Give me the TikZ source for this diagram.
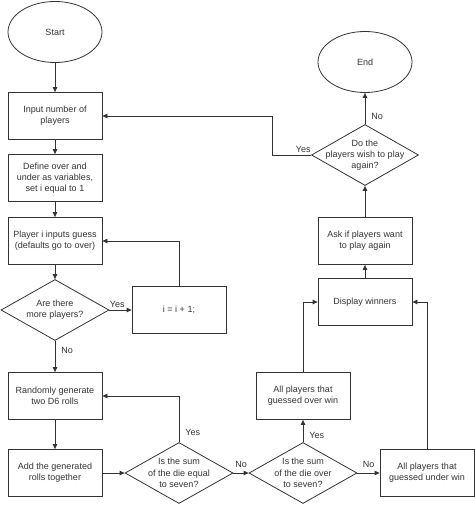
\documentclass[tikz,border=0pt]{standalone}
\usepackage{fontspec}
\setmainfont{Liberation Sans}
\usepackage{xcolor}
\usetikzlibrary{shapes.geometric, arrows.meta}

\definecolor{ink}{HTML}{333333}

\begin{document}
\begin{tikzpicture}[
  x=1pt, y=-1pt,
  box/.style={
    rectangle, draw=ink, thick, text=ink,
    minimum width=94pt, minimum height=47pt, inner sep=0pt,
    align=center, font=\fontsize{9}{11.3}\selectfont
  },
  term/.style={
    ellipse, draw=ink, thick, text=ink,
    minimum width=94pt, minimum height=61pt, inner sep=0pt,
    font=\fontsize{9}{11.3}\selectfont
  },
  dec/.style={
    diamond, draw=ink, thick,
    minimum width=108pt, minimum height=61pt, inner sep=0pt
  },
  dectext/.style={align=center, text=ink, font=\fontsize{9}{11.3}\selectfont},
  lbl/.style={text=ink, font=\fontsize{9}{11}\selectfont, inner sep=2pt},
  arrow/.style={-{Triangle[length=5pt,width=4.5pt]}, thick, ink}
]
\useasboundingbox (0,0) rectangle (474,505);

% ---- Left column ----
\node[term] (start)  at (55,32)  {Start};
\node[box]  (input)  at (55,116) {Input number of\\players};
\node[box]  (define) at (55,178) {Define over and\\under as variables,\\set i equal to 1};
\node[box]  (guess)  at (55,241) {Player i inputs guess\\(defaults go to over)};
\node[dec]  (more)   at (55,310) {};
\node[dectext] (moret) at (more) {Are there\\more players?};
\node[box]  (incr)   at (179,310) {i = i + 1;};
\node[box]  (roll)   at (55,396) {Randomly generate\\two D6 rolls};
\node[box]  (add)    at (55,473) {Add the generated\\rolls together};

% ---- Bottom row ----
\node[dec]  (eq)     at (179,473) {};
\node[dectext] (eqt) at (eq) {Is the sum\\of the die equal\\to seven?};
\node[dec]  (over)   at (303,473) {};
\node[dectext] (overt) at (over) {Is the sum\\of the die over\\to seven?};
\node[box]  (overwin)  at (303,396) {All players that\\guessed over win};
\node[box]  (underwin) at (427,473) {All players that\\guessed under win};

% ---- Right column ----
\node[box]  (show)   at (365,302) {Display winners};
\node[box]  (ask)    at (365,241) {Ask if players want\\to play again};
\node[dec, minimum width=107pt] (again) at (365,155) {};
\node[dectext] (againt) at (again) {Do the\\players wish to play\\again?};
\node[term] (end)    at (365,62) {End};

% ---- Arrows ----
\draw[arrow] (start)  -- (input);
\draw[arrow] (input)  -- (define);
\draw[arrow] (define) -- (guess);
\draw[arrow] (guess)  -- (more.north);
\draw[arrow] (more.east) -- node[lbl, pos=0.35, above] {Yes} (incr);
\draw[arrow] (incr.north) |- (guess.east);
\draw[arrow] (more.south) -- node[lbl, pos=0.3, right, xshift=4pt] {No} (roll);
\draw[arrow] (roll) -- (add);
\draw[arrow] (add) -- (eq.west);
\draw[arrow] (eq.north) |- node[lbl, pos=0.1, right, xshift=4pt] {Yes} (roll.east);
\draw[arrow] (eq.east) -- node[lbl, above, yshift=3pt] {No} (over.west);
\draw[arrow] (over.north) -- node[lbl, pos=0.3, right, xshift=4pt] {Yes} (overwin);
\draw[arrow] (over.east) -- node[lbl, above, yshift=3pt] {No} (underwin);
\draw[arrow] (overwin.north) |- (show.west);
\draw[arrow] (underwin.north) |- (show.east);
\draw[arrow] (show) -- (ask);
\draw[arrow] (ask) -- (again.south);
\draw[arrow] (again.north) -- node[lbl, pos=0.25, right, xshift=4pt] {No} (end);
\draw[arrow] (again.west) -- node[lbl, pos=0.2, above] {Yes} ++(-39,0) |- (input.east);

\end{tikzpicture}
\end{document}
